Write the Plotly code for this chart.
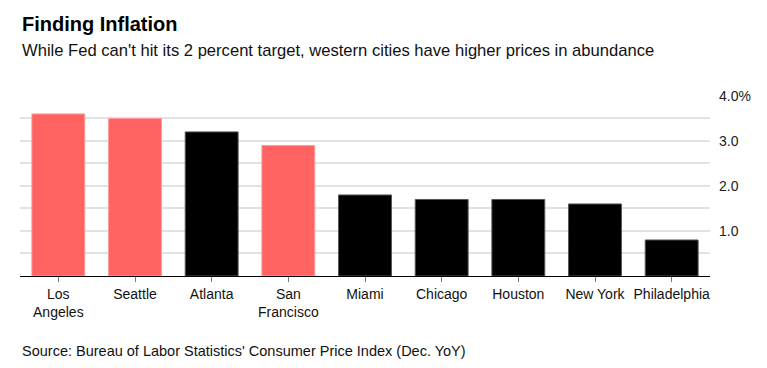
import plotly.graph_objects as go

cities = ["Los<br>Angeles", "Seattle", "Atlanta", "San<br>Francisco", "Miami",
          "Chicago", "Houston", "New York", "Philadelphia"]
values = [3.6, 3.5, 3.2, 2.9, 1.8, 1.7, 1.7, 1.6, 0.8]
western = [True, True, False, True, False, False, False, False, False]
tick_vals = [0.5, 1.0, 1.5, 2.0, 2.5, 3.0, 3.5, 4.0]
tick_text = ["", "1.0", "", "2.0", "", "3.0", "", "4.0%"]

RED = "#FF6361"
colors = [RED if w else "#000000" for w in western]
edges = ["#FF9E9C" if w else "#555555" for w in western]

fig = go.Figure(go.Bar(
    x=cities, y=values, marker=dict(color=colors, line=dict(color=edges, width=1)),
    width=0.69, hoverinfo="skip"))

font = "Liberation Sans, Arial, Helvetica, sans-serif"
# the page body adds an 8px offset; margins compensate for it
L, R, T, B = 12, 65, 87, 100
W, H = 767, 368
PW, PH = W - L - R, H - T - B

fig.update_layout(
    width=W, height=H,
    margin=dict(l=L, r=R, t=T, b=B),
    paper_bgcolor="white", plot_bgcolor="white",
    showlegend=False,
    font=dict(family=font, size=14, color="#111111"),
    xaxis=dict(showline=True, linecolor="#000000", linewidth=1, automargin=False,
               ticks="outside", ticklen=5, tickcolor="#777777",
               tickfont=dict(size=14, color="#111111"), showgrid=False),
    yaxis=dict(side="right", range=[0, 4.02], tickvals=tick_vals, ticktext=tick_text,
               showgrid=True, gridcolor="#E2E2E2", gridwidth=1.5, automargin=False,
               zeroline=False, ticks="", ticklabelstandoff=8,
               tickfont=dict(size=14, color="#222222")),
)
fig.add_annotation(text="<b>Finding Inflation</b>", xref="paper", yref="paper",
                   x=0, y=1 + (95 - 11) / PH, xanchor="left", yanchor="top",
                   showarrow=False, font=dict(size=20, color="#000000", family=font))
fig.add_annotation(text="While Fed can't hit its 2 percent target, western cities have higher prices in abundance",
                   xref="paper", yref="paper",
                   x=0, y=1 + (95 - 39) / PH, xanchor="left", yanchor="top",
                   showarrow=False, font=dict(size=16.6, color="#111111", family=font))
fig.add_annotation(text="Source: Bureau of Labor Statistics' Consumer Price Index (Dec. YoY)",
                   xref="paper", yref="paper",
                   x=0, y=-(341 - 276) / PH, xanchor="left", yanchor="top",
                   showarrow=False, font=dict(size=14.5, color="#111111", family=font))

fig.write_html("out.html")
